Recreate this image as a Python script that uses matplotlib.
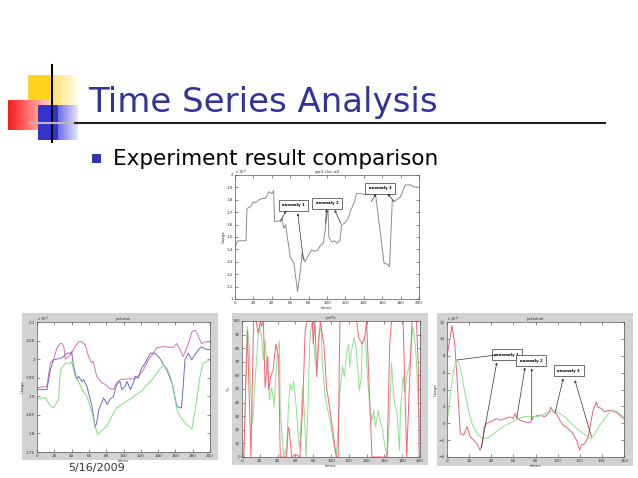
import matplotlib
matplotlib.use("Agg")
import matplotlib.pyplot as plt
import numpy as np
from matplotlib.patches import Rectangle

W, H = 638, 478

# slide text
title_text = "Time Series Analysis"
bullet_text = "Experiment result comparison"
date_text = "5/16/2009"

# top chart (gw3)
top_t = [0, 3, 11, 12, 13, 17, 20, 22, 26, 29, 33, 37, 40, 42, 43, 49, 51, 53, 55,
         60, 64, 68, 71, 73, 76, 80, 83, 87, 90, 93, 96, 98, 101, 102, 105, 108, 111,
         114, 116, 119, 123, 126, 130, 132, 137, 141, 148, 151, 153, 162, 166, 168,
         171, 173, 176, 180, 185, 191, 194, 200]
top_v = [1.42, 1.47, 1.47, 1.47, 1.73, 1.745, 1.785, 1.775, 1.80, 1.81, 1.81, 1.865,
         1.85, 1.875, 1.625, 1.63, 1.65, 1.57, 1.60, 1.34, 1.29, 1.06, 1.23, 1.37, 1.30,
         1.355, 1.395, 1.385, 1.395, 1.435, 1.45, 1.555, 1.76, 1.50, 1.46, 1.47, 1.45,
         1.47, 1.60, 1.61, 1.65, 1.72, 1.785, 1.85, 1.85, 1.84, 1.85, 1.86, 1.83, 1.29,
         1.28, 1.26, 1.80, 1.785, 1.80, 1.825, 1.92, 1.92, 1.905, 1.90]
top_labels = ["anomaly 1", "anomaly 2", "anomaly 3"]
top_box_pos = [(63.5, 1.758), (100.2, 1.771), (157.6, 1.892)]
top_arrows = [((49.2, 1.624), (55.7, 1.712)), ((74.3, 1.314), (68.2, 1.691)),
              ((98.4, 1.61), (99.5, 1.723)), ((114.9, 1.61), (108.4, 1.718)),
              ((148, 1.785), (153.3, 1.847)), ((173, 1.785), (165.9, 1.847))]

# bottom left chart
bl_pink_t = [0, 11.5, 15.4, 19, 23, 27, 29, 31, 32.7, 36.5, 40, 43, 48, 52, 55.8, 59.6,
             63.5, 65, 69, 75, 79, 82.7, 88.5, 92, 96, 104, 113, 117, 123, 129, 134.6,
             138, 146, 152, 158, 161.5, 164.6, 169, 175, 179, 183, 186, 190, 196, 200]
bl_pink_v = [1.923, 1.927, 1.99, 1.998, 2.03, 2.042, 2.042, 2.034, 2.0, 2.007, 2.016,
             2.03, 2.047, 2.047, 2.038, 2.007, 1.99, 1.994, 1.954, 1.936, 1.932, 1.923,
             1.918, 1.936, 1.945, 1.947, 1.947, 1.954, 1.971, 1.998, 2.016, 2.03, 2.034,
             2.032, 2.032, 2.042, 2.03, 2.007, 2.042, 2.073, 2.078, 2.065, 2.042, 2.047,
             2.047]
bl_blue_t = [0, 11.5, 15.4, 19, 27, 30.8, 34.6, 38.5, 40, 42, 46, 48, 52, 54, 57.7, 63.5,
             67.3, 69, 71.5, 75, 77, 81, 84.6, 88.5, 92, 96, 98, 102, 104, 108, 112,
             113.5, 117, 121, 125, 131, 136.5, 142, 150, 156, 161.5, 165, 167, 169, 171,
             175, 179, 181, 186.5, 190, 196, 200]
bl_blue_v = [1.918, 1.918, 1.971, 1.998, 2.002, 2.007, 2.016, 2.016, 2.020, 1.985, 1.945,
             1.954, 1.940, 1.945, 1.927, 1.874, 1.816, 1.829, 1.865, 1.883, 1.896, 1.878,
             1.892, 1.9, 1.931, 1.94, 1.918, 1.927, 1.94, 1.918, 1.94, 1.954, 1.949,
             1.976, 1.989, 2.016, 2.016, 2.002, 1.971, 1.936, 1.874, 1.869, 1.869, 1.927,
             1.998, 2.016, 1.998, 2.007, 2.025, 2.033, 2.026, 2.026]
bl_green_t = [0, 7.7, 10, 15.4, 19, 25, 27, 32.7, 38.5, 40, 44, 48, 52, 57.7, 63.5, 67,
              70, 75, 81, 86.5, 92, 96, 104, 111.5, 115, 121, 127, 134.6, 140, 146, 150,
              154, 158, 161.5, 165, 171, 177, 179, 183, 188.5, 192, 200]
bl_green_v = [1.893, 1.896, 1.896, 1.874, 1.869, 1.892, 1.971, 1.989, 1.989, 1.994,
              1.954, 1.940, 1.918, 1.9, 1.856, 1.821, 1.798, 1.807, 1.821, 1.847, 1.869,
              1.874, 1.887, 1.899, 1.905, 1.914, 1.931, 1.949, 1.967, 1.985, 1.976, 1.954,
              1.918, 1.865, 1.847, 1.829, 1.816, 1.812, 1.865, 1.954, 1.989, 1.998]

# bottom middle chart (percent)
bm_green_t = [2, 6, 8, 10, 12, 15, 18, 20, 22, 24, 26, 29, 31, 33, 35, 36, 38, 40, 42,
              43, 47, 49, 50, 52, 54, 56, 58, 60, 62, 64, 65, 67, 68, 70, 72, 74, 76, 78,
              80, 82, 84, 86, 89, 90, 93, 95, 99, 103, 106, 108, 110, 113, 115, 118, 120,
              121, 123, 126, 128, 132, 134, 135, 138, 139, 141, 144, 146, 148, 150, 153,
              155, 158, 160, 163, 164, 166, 168, 170, 172, 174, 177, 178, 181, 183, 185,
              189, 192, 194, 196, 198, 199, 200]
bm_green_v = [0, 96, 83, 47, 25, 59, 88, 97, 88, 71, 86, 59, 42, 51, 44, 37, 59, 78, 85,
              34, 0, 5, 2, 34, 54, 49, 56, 44, 27, 10, 7, 37, 51, 34, 0, 34, 83, 98, 93,
              71, 64, 88, 96, 71, 47, 39, 27, 10, 0, 22, 47, 67, 59, 78, 83, 66, 78, 88,
              81, 49, 59, 83, 88, 83, 59, 34, 27, 34, 22, 34, 27, 20, 10, 0, 10, 34, 69,
              49, 37, 34, 5, 34, 59, 47, 59, 71, 96, 88, 71, 39, 34, 0]
bm_red_t = [2, 6, 7, 10, 13, 16, 18, 21, 22, 24, 26, 29, 30, 32, 35, 38, 41, 43, 50, 52,
            53, 56, 60, 65, 68, 71, 73, 79, 80, 82, 84, 86, 88, 92, 95, 99, 106, 108, 110,
            129, 131, 135, 138, 140, 146, 163, 166, 168, 181, 182, 185, 187, 191, 196,
            197, 198, 199]
bm_red_v = [0, 93, 71, 0, 100, 100, 91, 100, 96, 100, 51, 74, 49, 59, 64, 83, 74, 0, 0,
            22, 20, 0, 2, 0, 34, 93, 100, 100, 83, 100, 59, 83, 100, 83, 51, 34, 0, 0,
            100, 100, 88, 83, 88, 100, 0, 0, 83, 100, 100, 76, 0, 34, 100, 100, 83, 71, 0]

# bottom right chart
br_red_t = [0, 4.5, 7, 9, 12, 15, 18, 21, 24, 27, 30, 32, 33.6, 36, 39, 42, 45, 48, 52.5,
            57, 60, 61.5, 63, 66, 70.6, 75, 78, 82.6, 88.6, 91.6, 94, 96, 99, 102, 105,
            108, 111, 114, 117, 120, 121.5, 124.6, 127.6, 132, 135, 136.5, 139.6, 142.6,
            145.6, 148.6, 151.6, 154.6, 157.6, 160]
br_red_v = [7.9, 11.6, 9.4, 5.5, -1.2, -1.4, -0.4, -1.6, -2.0, -2.4, -3.2, -2.4, -0.4,
            0.0, 0.15, 0.35, 0.55, 0.35, 0.55, 0.75, 0.55, 1.15, 0.75, 0.35, 0.15, 0.05,
            0.75, 0.95, 0.8, 1.15, 1.9, 1.35, 1.15, 0.35, -0.25, -0.45, -0.85, -1.25,
            -2.0, -3.2, -2.6, -2.4, -1.6, 1.5, 2.5, 1.9, 1.75, 1.35, 1.5, 1.5, 1.35, 1.15,
            0.75, 0.55]
br_green_t = [0, 3, 6, 9, 11, 13.5, 16.5, 19.5, 22.5, 27, 31.5, 36, 40.5, 46.5, 52.5,
              58.5, 64.6, 70.6, 76.6, 82.6, 88.6, 93, 97.6, 102, 106.6, 111, 115.6,
              121.6, 127.6, 130.6, 133.6, 138, 142.6, 147, 150, 154, 157.6, 160]
br_green_v = [0, 3.5, 6.3, 7.5, 7.1, 5.5, 3.5, 1.5, 0, -1.2, -1.8, -1.8, -1.4, -0.8,
              -0.25, 0.15, 0.55, 0.8, 0.75, 0.8, 1.15, 1.35, 1.55, 1.15, 0.75, 0.15,
              -0.45, -1.05, -1.65, -1.85, -1.25, -0.25, 0.55, 1.35, 1.6, 1.35, 0.95, 0.75]
br_labels = ["anomaly 1", "anomaly 2", "anomaly 3"]
br_box_pos = [(54.5, 8.1), (76, 7.4), (110, 6.2)]
br_arrows = [((9, 7.5), (45, 8.1)), ((31, -2.9), (45, 7.2)),
             ((63, 0.6), (70.5, 6.6)), ((76.6, 0.4), (76.6, 6.5)),
             ((97.6, 1.2), (105, 5.3)), ((130.6, -1.6), (115.6, 5.1))]


def px_axes(fig, x0, y0, x1, y1, **kw):
    # rectangle given in image pixels (y down)
    return fig.add_axes([x0 / W, 1 - y1 / H, (x1 - x0) / W, (y1 - y0) / H], **kw)


def matlab_style(ax, title, ylabel, exp=None):
    ax.tick_params(direction="in", top=True, right=True, length=2, width=0.4,
                   labelsize=3, pad=1.5, colors="#333333")
    for s in ax.spines.values():
        s.set_linewidth(0.5)
        s.set_color("#555555")
    ax.set_title(title, fontsize=3.2, pad=1.5, color="#333333")
    ax.set_xlabel("times", fontsize=3, labelpad=0.5, color="#333333")
    ax.set_ylabel(ylabel, fontsize=3, labelpad=1, color="#333333")
    if exp:
        ax.text(0.0, 0.985, exp, transform=ax.transAxes, fontsize=2.7,
                va="bottom", ha="left", color="#333333")


def annotate(ax, labels, boxes, arrows):
    for lab, (bx, by) in zip(labels, boxes):
        ax.text(bx, by, lab, fontsize=2.8, ha="center", va="center", fontweight="bold",
                bbox=dict(boxstyle="square,pad=0.9", fc="white", ec="#333333", lw=0.5))
    for tail, head in arrows:
        ax.annotate("", xy=head, xytext=tail,
                    arrowprops=dict(arrowstyle="-|>", color="#333333", lw=0.5,
                                    mutation_scale=3, shrinkA=0, shrinkB=0))


fig = plt.figure(figsize=(W / 100, H / 100), dpi=100)

# slide background layer in pixel coordinates
bg = fig.add_axes([0, 0, 1, 1])
bg.set_xlim(0, W)
bg.set_ylim(H, 0)
bg.axis("off")


def grad_img(c0, c1, n=64):
    c0 = np.array(matplotlib.colors.to_rgb(c0))
    c1 = np.array(matplotlib.colors.to_rgb(c1))
    t = np.linspace(0, 1, n)
    return c0[None, None, :] * (1 - t)[None, :, None] + c1[None, None, :] * t[None, :, None]


# logo squares
bg.add_patch(Rectangle((28, 75), 22, 50, color="#FFD21E", lw=0, zorder=1))
bg.imshow(grad_img("#FFE066", "#FFFBEA"), extent=(50, 78, 125, 75), aspect="auto", zorder=1)
bg.imshow(grad_img("#FF1A1A", "#FFD0D0"), extent=(8, 50, 130, 100), aspect="auto", zorder=2)
bg.add_patch(Rectangle((38, 105), 20, 35, color="#3333CC", lw=0, zorder=3))
bg.imshow(grad_img("#6E6EE0", "#E6E6FA"), extent=(58, 78, 140, 105), aspect="auto", zorder=3)
bg.plot([52, 52], [65, 142], color="black", lw=1.5, zorder=4)
bg.plot([30, 75], [123, 123], color="#BBBBBB", lw=1.5, zorder=4)
bg.plot([75, 605], [123, 123], color="#222222", lw=1.5, zorder=4)

bg.text(88, 112, title_text, fontsize=24.5, color="#333399", ha="left",
        va="baseline", family="DejaVu Sans", zorder=5)
bg.add_patch(Rectangle((92, 154), 9, 9, color="#3333AA", lw=0, zorder=5))
bg.text(113, 165, bullet_text, fontsize=15.5, color="black", ha="left",
        va="baseline", family="DejaVu Sans", zorder=5)
# date footer, its upper part is hidden behind the left plot panel
bg.text(68, 470.5, date_text, fontsize=8, color="#333333", ha="left",
        va="baseline", zorder=1)

# gray figure panels of the three lower plots
for (x0, y0, x1, y1) in [(22, 313, 218, 460), (232, 313, 428, 465), (437, 313, 633, 466)]:
    bg.add_patch(Rectangle((x0, y0), x1 - x0, y1 - y0, color="#D2D2D2", lw=0, zorder=6))
bg.set_xlim(0, W)
bg.set_ylim(H, 0)

# top chart
ax = px_axes(fig, 235, 175, 419, 299)
ax.plot(top_t, top_v, color="#8C8C8C", lw=0.7)
ax.set_xlim(0, 200)
ax.set_ylim(1, 2)
ax.set_xticks(np.arange(0, 201, 20))
ax.set_yticks(np.arange(1, 2.01, 0.1))
ax.set_yticklabels(["1", "1.1", "1.2", "1.3", "1.4", "1.5", "1.6", "1.7", "1.8", "1.9", "2"])
matlab_style(ax, "gw3-Usc.all", "Usage", "x 10$^{4}$")
annotate(ax, top_labels, top_box_pos, top_arrows)

# bottom left
ax = px_axes(fig, 37, 322, 210, 452)
ax.plot(bl_pink_t, bl_pink_v, color="#D070B8", lw=0.7)
ax.plot(bl_blue_t, bl_blue_v, color="#6A6AD0", lw=0.7)
ax.plot(bl_green_t, bl_green_v, color="#7FDD7F", lw=0.7)
ax.set_xlim(0, 200)
ax.set_ylim(1.75, 2.1)
ax.set_xticks(np.arange(0, 201, 20))
ax.set_yticks([1.75, 1.8, 1.85, 1.9, 1.95, 2.0, 2.05, 2.1])
ax.set_yticklabels(["1.75", "1.8", "1.85", "1.9", "1.95", "2", "2.05", "2.1"])
matlab_style(ax, "pclsew", "Usage", "x 10$^{4}$")

# bottom middle
ax = px_axes(fig, 242, 321, 420, 457)
ax.plot(bm_green_t, bm_green_v, color="#8FE08F", lw=0.7)
ax.plot(bm_red_t, bm_red_v, color="#EE6677", lw=0.7)
ax.set_xlim(0, 200)
ax.set_ylim(0, 100)
ax.set_xticks(np.arange(0, 201, 20))
ax.set_yticks(np.arange(0, 101, 10))
matlab_style(ax, "pcl%", "%")

# bottom right
ax = px_axes(fig, 447, 322, 624, 457)
ax.plot(br_red_t, br_red_v, color="#DD6677", lw=0.7)
ax.plot(br_green_t, br_green_v, color="#8FE08F", lw=0.7)
ax.set_xlim(0, 160)
ax.set_ylim(-4, 12)
ax.set_xticks(np.arange(0, 161, 20))
ax.set_yticks(np.arange(-4, 13, 2))
matlab_style(ax, "pclwind", "Usage", "x 10$^{4}$")
annotate(ax, br_labels, br_box_pos, br_arrows)

fig.savefig("out.png", dpi=100)
